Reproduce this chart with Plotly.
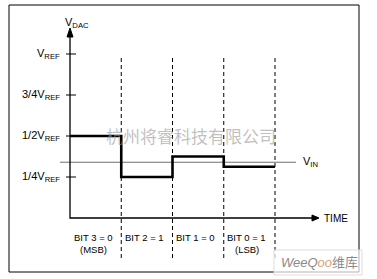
import plotly.graph_objects as go

# ---- data ----
bit_labels = ["BIT 3 = 0", "BIT 2 = 1", "BIT 1 = 0", "BIT 0 = 1"]
bit_sublabels = ["(MSB)", "", "", "(LSB)"]
dac_levels = [0.5, 0.25, 0.375, 0.3125]
vin_level = 0.34
tick_values = [1.0, 0.75, 0.5, 0.25]
tick_labels = ["V<sub>REF</sub>", "3/4V<sub>REF</sub>", "1/2V<sub>REF</sub>", "1/4V<sub>REF</sub>"]

W, H = 377, 279
# pixel scale of the drawing
X0, XS = 70, 51.25   # px of x=0, px per bit interval
Y0, YS = 218, 164    # px of y=0, px per VREF

def px_x(p):
    return (p - X0) / XS

def px_y(p):
    return (Y0 - p) / YS

FONT = "Liberation Sans, Arial, sans-serif"
fig = go.Figure()

n = len(dac_levels)
# dashed bit boundaries
for i in range(1, n + 1):
    fig.add_trace(go.Scatter(x=[i, i], y=[px_y(58), px_y(261)], mode="lines",
                             line=dict(color="black", width=1, dash="4px,3px"),
                             hoverinfo="skip", showlegend=False))

# VIN line
fig.add_trace(go.Scatter(x=[px_x(60), px_x(296)], y=[vin_level, vin_level], mode="lines",
                         line=dict(color="#6e6e6e", width=1), hoverinfo="skip", showlegend=False))

# axes
fig.add_trace(go.Scatter(x=[0, 0, px_x(314)], y=[px_y(36), 0, 0], mode="lines",
                         line=dict(color="black", width=1.3), hoverinfo="skip", showlegend=False))
# ticks
tx, ty = [], []
for v in tick_values:
    tx += [px_x(66), px_x(76), None]
    ty += [v, v, None]
fig.add_trace(go.Scatter(x=tx, y=ty, mode="lines", line=dict(color="black", width=1),
                         hoverinfo="skip", showlegend=False))
# arrowheads
fig.add_trace(go.Scatter(x=[0, px_x(X0 - 3), px_x(X0 + 3), 0],
                         y=[px_y(28), px_y(37), px_y(37), px_y(28)],
                         mode="lines", fill="toself", fillcolor="black",
                         line=dict(color="black", width=1), hoverinfo="skip", showlegend=False))
fig.add_trace(go.Scatter(x=[px_x(319), px_x(312), px_x(312), px_x(319)],
                         y=[0, px_y(Y0 - 3), px_y(Y0 + 3), 0],
                         mode="lines", fill="toself", fillcolor="black",
                         line=dict(color="black", width=1), hoverinfo="skip", showlegend=False))

# DAC waveform
fig.add_trace(go.Scatter(x=list(range(n + 1)), y=dac_levels + [dac_levels[-1]],
                         mode="lines", line=dict(color="black", width=2.6, shape="hv"),
                         hoverinfo="skip", showlegend=False))

ann = []
for v, t in zip(tick_values, tick_labels):
    ann.append(dict(x=px_x(62), y=v, text=t, xanchor="right", yanchor="middle",
                    showarrow=False, font=dict(size=11, color="black", family=FONT)))
for i, (b, s) in enumerate(zip(bit_labels, bit_sublabels)):
    ann.append(dict(x=i + 0.45, y=px_y(237), text=b, showarrow=False,
                    font=dict(size=9.5, color="black", family=FONT)))
    if s:
        ann.append(dict(x=i + 0.45, y=px_y(249), text=s, showarrow=False,
                        font=dict(size=9.5, color="black", family=FONT)))
ann.append(dict(x=px_x(63), y=px_y(23), text="V<sub>DAC</sub>", xanchor="left", showarrow=False,
                font=dict(size=11, color="black", family=FONT)))
ann.append(dict(x=px_x(301), y=vin_level, text="V<sub>IN</sub>", xanchor="left", showarrow=False,
                font=dict(size=11, color="black", family=FONT)))
ann.append(dict(x=px_x(322), y=0, text="TIME", xanchor="left", showarrow=False,
                font=dict(size=10, color="black", family=FONT)))
# watermarks
ann.append(dict(x=px_x(191), y=px_y(135), text="杭州将睿科技有限公司", showarrow=False,
                font=dict(size=17, color="rgba(150,150,150,0.6)", family="Noto Sans CJK SC")))
ann.append(dict(x=279 / W, y=1 - 262 / H, xref="paper", yref="paper", xanchor="left", yanchor="middle",
                text="<i>WeeQ<span style='color:#e0a070'>oo</span></i>维库", showarrow=False,
                font=dict(size=13, color="#8a8a8a", family="Liberation Sans, Noto Sans CJK SC")))

shapes = [
    dict(type="rect", xref="paper", yref="paper", x0=9 / W, x1=359 / W, y0=1 - 272 / H, y1=1 - 5 / H,
         line=dict(color="black", width=1), layer="below"),
    dict(type="rect", xref="paper", yref="paper", x0=274 / W, x1=362 / W, y0=1 - 275 / H, y1=1 - 250 / H,
         line=dict(color="#dddddd", width=1), fillcolor="rgba(255,255,255,0.7)", layer="above"),
]

fig.update_layout(
    width=W, height=H, margin=dict(l=0, r=0, t=0, b=0),
    paper_bgcolor="white", plot_bgcolor="white",
    xaxis=dict(range=[px_x(0), px_x(W)], visible=False, fixedrange=True),
    yaxis=dict(range=[px_y(H), px_y(0)], visible=False, fixedrange=True),
    annotations=ann, shapes=shapes, showlegend=False,
)
fig.write_html("out.html", config={"displayModeBar": False})
